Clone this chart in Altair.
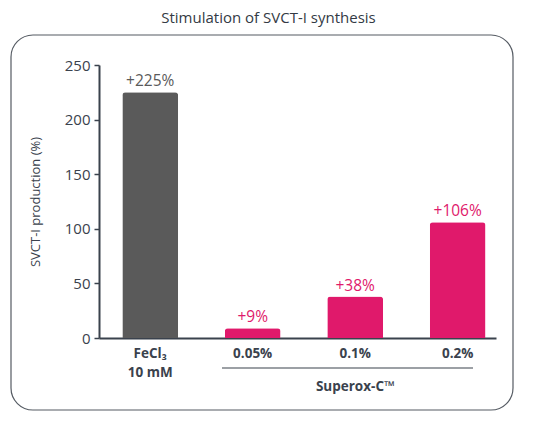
import pandas as pd
import altair as alt

# data
categories = ["FeCl₃\n10 mM", "0.05%", "0.1%", "0.2%"]
values = [225, 9, 38, 106]
groups = ["FeCl3", "Superox", "Superox", "Superox"]
labels = ["+225%", "+9%", "+38%", "+106%"]

df = pd.DataFrame({"cat": categories, "value": values, "group": groups, "label": labels})

INK = "#3a424d"
PINK = "#e0196b"
PINK_TEXT = "#e3356f"
GRAY = "#5a5a5a"
W, H = 397, 273

x_enc = alt.X(
    "cat:N", sort=categories, title=None,
    scale=alt.Scale(paddingInner=0.456, paddingOuter=0.165, align=0.69),
    axis=alt.Axis(
        labelAngle=0, ticks=False, labelFontWeight="bold", labelFontSize=13.5,
        labelColor=INK, labelPadding=8, labelLineHeight=19,
        labelExpr="split(datum.label, '\\n')",
        domainColor=INK, domainWidth=2,
    ),
)
y_enc = alt.Y(
    "value:Q", title="SVCT-I production (%)",
    scale=alt.Scale(domain=[0, 250], nice=False),
    axis=alt.Axis(
        values=[0, 50, 100, 150, 200, 250], grid=False, tickSize=5, tickWidth=1.5,
        tickColor=INK, domainColor=INK, domainWidth=2, labelFontSize=15,
        labelColor=INK, labelPadding=4, titleFontSize=13, titleFontWeight="normal",
        titleColor=INK, titleX=-64, titleY=H / 2, titleAngle=270,
        titleAlign="center", titleBaseline="middle",
    ),
)

color_scale = alt.Scale(domain=["FeCl3", "Superox"], range=[GRAY, PINK])
text_scale = alt.Scale(domain=["FeCl3", "Superox"], range=["#000000", PINK_TEXT])

base = alt.Chart(df).encode(x=x_enc)

bars = base.mark_bar(cornerRadiusTopLeft=3, cornerRadiusTopRight=3).encode(
    y=y_enc,
    color=alt.Color("group:N", scale=color_scale, legend=None),
)

bar_text = base.mark_text(fontSize=15.5, baseline="alphabetic", dy=-6).encode(
    y=alt.Y("value:Q"),
    text="label:N",
    color=alt.Color("group:N", scale=text_scale, legend=None),
)

one = pd.DataFrame({"k": [0]})

# bracket under the Superox-C doses
bracket = alt.Chart(one).mark_rule(color=INK, strokeWidth=1.2).encode(
    x=alt.value(123), x2=alt.value(374), y=alt.value(H + 30)
)
bracket_text = alt.Chart(one).mark_text(
    text="Superox-C™", fontSize=13.5, fontWeight="bold", color=INK, baseline="middle"
).encode(x=alt.X(datum="0.1%", type="nominal"), y=alt.value(H + 49))

# rounded frame around the plot
frame = alt.Chart(one).mark_rect(
    fill=None, stroke="#555b63", strokeWidth=1.2, cornerRadius=22
).encode(x=alt.value(-88), x2=alt.value(414), y=alt.value(-30), y2=alt.value(H + 72))

chart = (
    alt.layer(frame, bars, bar_text, bracket, bracket_text)
    .properties(
        width=W, height=H,
        autosize=alt.AutoSizeParams(type="none"),
        padding={"left": 91, "top": 57, "right": 36, "bottom": 82},
        title=alt.TitleParams(
            "Stimulation of SVCT-I synthesis", fontSize=15, fontWeight="normal",
            color="#333a44", anchor="middle", frame="group", dx=-29, offset=8,
        ),
    )
    .configure(font="Open Sans")
    .configure_view(stroke=None)
)

chart.save("out.html", embed_options={"renderer": "svg", "actions": False})
